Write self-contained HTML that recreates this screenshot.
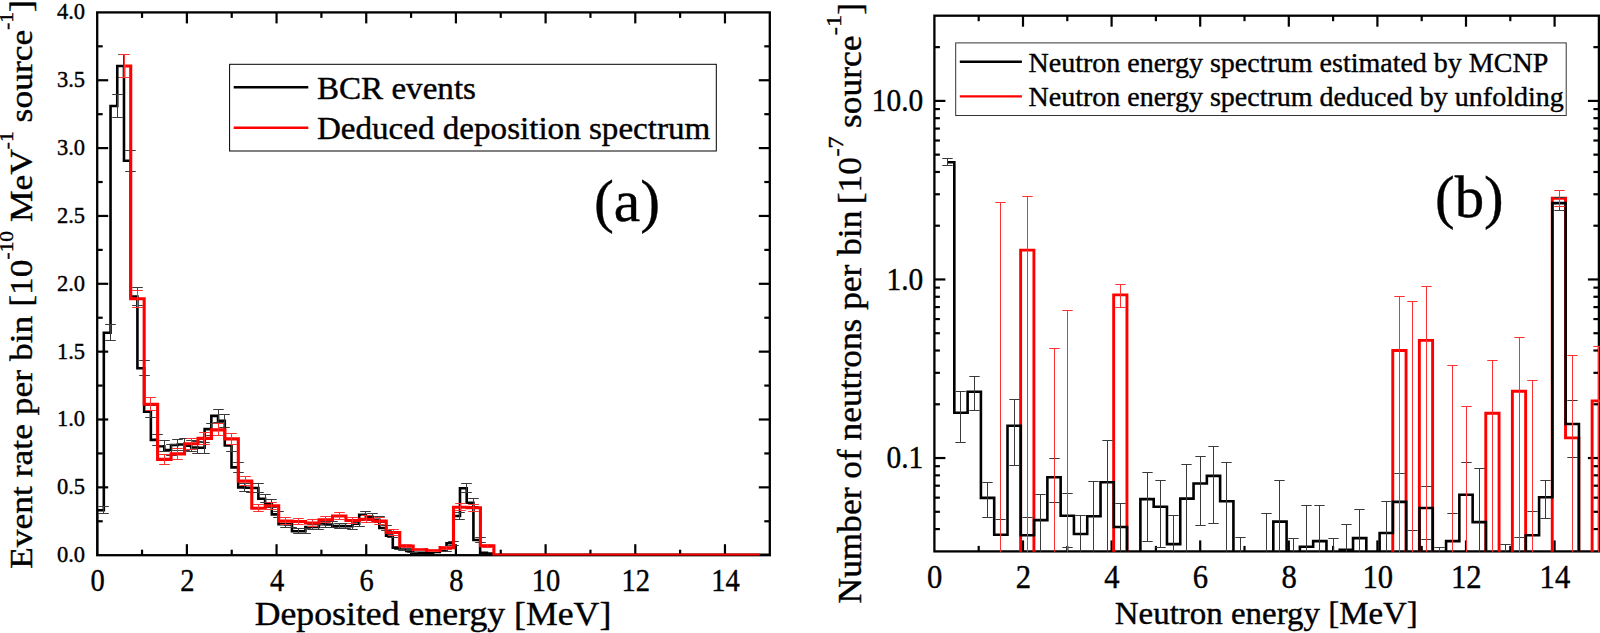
<!DOCTYPE html>
<html><head><meta charset="utf-8"><title>Spectra</title>
<style>html,body{margin:0;padding:0;background:#fff;overflow:hidden}svg{display:block}text{font-family:"Liberation Serif",serif;fill:#000;stroke:#000;stroke-width:0.4px;stroke-linejoin:round}</style>
</head><body>
<svg width="1600" height="633" viewBox="0 0 1600 633">
<rect width="1600" height="633" fill="#fff"/>
<rect x="97.20" y="12.40" width="672.60" height="542.80" fill="none" stroke="#000" stroke-width="2.3"/>
<text transform="translate(97.6,591.0) scale(0.88,1)" font-size="32.4" text-anchor="middle" >0</text>
<line x1="142.04" y1="555.20" x2="142.04" y2="549.70" stroke="#000" stroke-width="2.2"/>
<line x1="142.04" y1="12.40" x2="142.04" y2="17.90" stroke="#000" stroke-width="2.2"/>
<line x1="186.88" y1="555.20" x2="186.88" y2="544.20" stroke="#000" stroke-width="2.2"/>
<line x1="186.88" y1="12.40" x2="186.88" y2="23.40" stroke="#000" stroke-width="2.2"/>
<text transform="translate(187.3,591.0) scale(0.88,1)" font-size="32.4" text-anchor="middle" >2</text>
<line x1="231.72" y1="555.20" x2="231.72" y2="549.70" stroke="#000" stroke-width="2.2"/>
<line x1="231.72" y1="12.40" x2="231.72" y2="17.90" stroke="#000" stroke-width="2.2"/>
<line x1="276.56" y1="555.20" x2="276.56" y2="544.20" stroke="#000" stroke-width="2.2"/>
<line x1="276.56" y1="12.40" x2="276.56" y2="23.40" stroke="#000" stroke-width="2.2"/>
<text transform="translate(277.0,591.0) scale(0.88,1)" font-size="32.4" text-anchor="middle" >4</text>
<line x1="321.40" y1="555.20" x2="321.40" y2="549.70" stroke="#000" stroke-width="2.2"/>
<line x1="321.40" y1="12.40" x2="321.40" y2="17.90" stroke="#000" stroke-width="2.2"/>
<line x1="366.24" y1="555.20" x2="366.24" y2="544.20" stroke="#000" stroke-width="2.2"/>
<line x1="366.24" y1="12.40" x2="366.24" y2="23.40" stroke="#000" stroke-width="2.2"/>
<text transform="translate(366.6,591.0) scale(0.88,1)" font-size="32.4" text-anchor="middle" >6</text>
<line x1="411.08" y1="555.20" x2="411.08" y2="549.70" stroke="#000" stroke-width="2.2"/>
<line x1="411.08" y1="12.40" x2="411.08" y2="17.90" stroke="#000" stroke-width="2.2"/>
<line x1="455.92" y1="555.20" x2="455.92" y2="544.20" stroke="#000" stroke-width="2.2"/>
<line x1="455.92" y1="12.40" x2="455.92" y2="23.40" stroke="#000" stroke-width="2.2"/>
<text transform="translate(456.3,591.0) scale(0.88,1)" font-size="32.4" text-anchor="middle" >8</text>
<line x1="500.76" y1="555.20" x2="500.76" y2="549.70" stroke="#000" stroke-width="2.2"/>
<line x1="500.76" y1="12.40" x2="500.76" y2="17.90" stroke="#000" stroke-width="2.2"/>
<line x1="545.60" y1="555.20" x2="545.60" y2="544.20" stroke="#000" stroke-width="2.2"/>
<line x1="545.60" y1="12.40" x2="545.60" y2="23.40" stroke="#000" stroke-width="2.2"/>
<text transform="translate(546.0,591.0) scale(0.88,1)" font-size="32.4" text-anchor="middle" >10</text>
<line x1="590.44" y1="555.20" x2="590.44" y2="549.70" stroke="#000" stroke-width="2.2"/>
<line x1="590.44" y1="12.40" x2="590.44" y2="17.90" stroke="#000" stroke-width="2.2"/>
<line x1="635.28" y1="555.20" x2="635.28" y2="544.20" stroke="#000" stroke-width="2.2"/>
<line x1="635.28" y1="12.40" x2="635.28" y2="23.40" stroke="#000" stroke-width="2.2"/>
<text transform="translate(635.7,591.0) scale(0.88,1)" font-size="32.4" text-anchor="middle" >12</text>
<line x1="680.12" y1="555.20" x2="680.12" y2="549.70" stroke="#000" stroke-width="2.2"/>
<line x1="680.12" y1="12.40" x2="680.12" y2="17.90" stroke="#000" stroke-width="2.2"/>
<line x1="724.96" y1="555.20" x2="724.96" y2="544.20" stroke="#000" stroke-width="2.2"/>
<line x1="724.96" y1="12.40" x2="724.96" y2="23.40" stroke="#000" stroke-width="2.2"/>
<text transform="translate(725.4,591.0) scale(0.88,1)" font-size="32.4" text-anchor="middle" >14</text>
<text transform="translate(85.0,562.0) scale(1.0,1)" font-size="22.5" text-anchor="end" >0.0</text>
<line x1="97.20" y1="521.28" x2="102.70" y2="521.28" stroke="#000" stroke-width="2.2"/>
<line x1="769.80" y1="521.28" x2="764.30" y2="521.28" stroke="#000" stroke-width="2.2"/>
<line x1="97.20" y1="487.35" x2="108.20" y2="487.35" stroke="#000" stroke-width="2.2"/>
<line x1="769.80" y1="487.35" x2="758.80" y2="487.35" stroke="#000" stroke-width="2.2"/>
<text transform="translate(85.0,494.2) scale(1.0,1)" font-size="22.5" text-anchor="end" >0.5</text>
<line x1="97.20" y1="453.43" x2="102.70" y2="453.43" stroke="#000" stroke-width="2.2"/>
<line x1="769.80" y1="453.43" x2="764.30" y2="453.43" stroke="#000" stroke-width="2.2"/>
<line x1="97.20" y1="419.50" x2="108.20" y2="419.50" stroke="#000" stroke-width="2.2"/>
<line x1="769.80" y1="419.50" x2="758.80" y2="419.50" stroke="#000" stroke-width="2.2"/>
<text transform="translate(85.0,426.3) scale(1.0,1)" font-size="22.5" text-anchor="end" >1.0</text>
<line x1="97.20" y1="385.58" x2="102.70" y2="385.58" stroke="#000" stroke-width="2.2"/>
<line x1="769.80" y1="385.58" x2="764.30" y2="385.58" stroke="#000" stroke-width="2.2"/>
<line x1="97.20" y1="351.65" x2="108.20" y2="351.65" stroke="#000" stroke-width="2.2"/>
<line x1="769.80" y1="351.65" x2="758.80" y2="351.65" stroke="#000" stroke-width="2.2"/>
<text transform="translate(85.0,358.5) scale(1.0,1)" font-size="22.5" text-anchor="end" >1.5</text>
<line x1="97.20" y1="317.73" x2="102.70" y2="317.73" stroke="#000" stroke-width="2.2"/>
<line x1="769.80" y1="317.73" x2="764.30" y2="317.73" stroke="#000" stroke-width="2.2"/>
<line x1="97.20" y1="283.80" x2="108.20" y2="283.80" stroke="#000" stroke-width="2.2"/>
<line x1="769.80" y1="283.80" x2="758.80" y2="283.80" stroke="#000" stroke-width="2.2"/>
<text transform="translate(85.0,290.6) scale(1.0,1)" font-size="22.5" text-anchor="end" >2.0</text>
<line x1="97.20" y1="249.88" x2="102.70" y2="249.88" stroke="#000" stroke-width="2.2"/>
<line x1="769.80" y1="249.88" x2="764.30" y2="249.88" stroke="#000" stroke-width="2.2"/>
<line x1="97.20" y1="215.95" x2="108.20" y2="215.95" stroke="#000" stroke-width="2.2"/>
<line x1="769.80" y1="215.95" x2="758.80" y2="215.95" stroke="#000" stroke-width="2.2"/>
<text transform="translate(85.0,222.8) scale(1.0,1)" font-size="22.5" text-anchor="end" >2.5</text>
<line x1="97.20" y1="182.02" x2="102.70" y2="182.02" stroke="#000" stroke-width="2.2"/>
<line x1="769.80" y1="182.02" x2="764.30" y2="182.02" stroke="#000" stroke-width="2.2"/>
<line x1="97.20" y1="148.10" x2="108.20" y2="148.10" stroke="#000" stroke-width="2.2"/>
<line x1="769.80" y1="148.10" x2="758.80" y2="148.10" stroke="#000" stroke-width="2.2"/>
<text transform="translate(85.0,154.9) scale(1.0,1)" font-size="22.5" text-anchor="end" >3.0</text>
<line x1="97.20" y1="114.18" x2="102.70" y2="114.18" stroke="#000" stroke-width="2.2"/>
<line x1="769.80" y1="114.18" x2="764.30" y2="114.18" stroke="#000" stroke-width="2.2"/>
<line x1="97.20" y1="80.25" x2="108.20" y2="80.25" stroke="#000" stroke-width="2.2"/>
<line x1="769.80" y1="80.25" x2="758.80" y2="80.25" stroke="#000" stroke-width="2.2"/>
<text transform="translate(85.0,87.0) scale(1.0,1)" font-size="22.5" text-anchor="end" >3.5</text>
<line x1="97.20" y1="46.32" x2="102.70" y2="46.32" stroke="#000" stroke-width="2.2"/>
<line x1="769.80" y1="46.32" x2="764.30" y2="46.32" stroke="#000" stroke-width="2.2"/>
<text transform="translate(85.0,19.2) scale(1.0,1)" font-size="22.5" text-anchor="end" >4.0</text>
<clipPath id="cl"><rect x="97.2" y="12.4" width="672.5999999999999" height="543.1500000000001"/></clipPath>
<g clip-path="url(#cl)">
<path d="M97.10 555.20V510.30H103.82V332.80H110.54V106.00H117.26V66.00H123.98V160.80H130.70V296.50H137.42V368.20H144.14V411.60H150.86V439.90H157.58V446.20H164.30V450.00H171.02V445.00H177.74V444.50H184.46V445.60H191.18V447.50H197.90V447.80H204.62V429.10H211.34V415.90H218.06V420.90H224.78V445.50H231.50V467.40H238.22V487.40H244.94V487.80H251.66V488.00H258.38V498.80H265.10V503.80H271.82V514.40H278.54V524.20H285.26V524.40H291.98V531.20H298.70V531.20H305.42V527.00H312.14V527.00H318.86V524.20H325.58V524.50H332.30V526.00H339.02V526.10H345.74V526.30H352.46V523.60H359.18V514.80H365.90V516.70H372.62V519.80H379.34V528.00H386.06V535.60H392.78V547.60H399.50V549.50H406.22V551.00H412.94V552.70H419.66V552.70H426.38V552.70H433.10V552.00H439.82V550.50H446.54V543.20H453.26V516.00H459.98V488.20H466.70V502.80H473.42V540.00H480.14V552.70H486.86V553.50H493.58V554.90H769.80" fill="none" stroke="#000" stroke-width="2.6" stroke-linejoin="miter"/>
<path d="M103.50 506.50V513.50M98.20 506.50H108.80M98.20 513.50H108.80" stroke="#3a3a3a" stroke-width="1.0" fill="none" opacity="1.0"/>
<path d="M110.50 324.50V340.50M105.20 324.50H115.80M105.20 340.50H115.80" stroke="#3a3a3a" stroke-width="1.0" fill="none" opacity="1.0"/>
<path d="M117.50 94.50V117.50M112.20 94.50H122.80M112.20 117.50H122.80" stroke="#3a3a3a" stroke-width="1.0" fill="none" opacity="1.0"/>
<path d="M123.50 54.50V77.50M118.20 54.50H128.80M118.20 77.50H128.80" stroke="#3a3a3a" stroke-width="1.0" fill="none" opacity="1.0"/>
<path d="M130.50 150.50V171.50M125.20 150.50H135.80M125.20 171.50H135.80" stroke="#3a3a3a" stroke-width="1.0" fill="none" opacity="1.0"/>
<path d="M137.50 287.50V305.50M132.20 287.50H142.80M132.20 305.50H142.80" stroke="#3a3a3a" stroke-width="1.0" fill="none" opacity="1.0"/>
<path d="M144.50 360.50V375.50M139.20 360.50H149.80M139.20 375.50H149.80" stroke="#3a3a3a" stroke-width="1.0" fill="none" opacity="1.0"/>
<path d="M150.50 405.50V417.50M145.20 405.50H155.80M145.20 417.50H155.80" stroke="#3a3a3a" stroke-width="1.0" fill="none" opacity="1.0"/>
<path d="M157.50 434.50V445.50M152.20 434.50H162.80M152.20 445.50H162.80" stroke="#3a3a3a" stroke-width="1.0" fill="none" opacity="1.0"/>
<path d="M164.50 440.50V451.50M159.20 440.50H169.80M159.20 451.50H169.80" stroke="#3a3a3a" stroke-width="1.0" fill="none" opacity="1.0"/>
<path d="M171.50 444.50V455.50M166.20 444.50H176.80M166.20 455.50H176.80" stroke="#3a3a3a" stroke-width="1.0" fill="none" opacity="1.0"/>
<path d="M177.50 439.50V450.50M172.20 439.50H182.80M172.20 450.50H182.80" stroke="#3a3a3a" stroke-width="1.0" fill="none" opacity="1.0"/>
<path d="M184.50 438.50V450.50M179.20 438.50H189.80M179.20 450.50H189.80" stroke="#3a3a3a" stroke-width="1.0" fill="none" opacity="1.0"/>
<path d="M191.50 440.50V451.50M186.20 440.50H196.80M186.20 451.50H196.80" stroke="#3a3a3a" stroke-width="1.0" fill="none" opacity="1.0"/>
<path d="M197.50 441.50V453.50M192.20 441.50H202.80M192.20 453.50H202.80" stroke="#3a3a3a" stroke-width="1.0" fill="none" opacity="1.0"/>
<path d="M204.50 442.50V453.50M199.20 442.50H209.80M199.20 453.50H209.80" stroke="#3a3a3a" stroke-width="1.0" fill="none" opacity="1.0"/>
<path d="M211.50 423.50V435.50M206.20 423.50H216.80M206.20 435.50H216.80" stroke="#3a3a3a" stroke-width="1.0" fill="none" opacity="1.0"/>
<path d="M218.50 409.50V422.50M213.20 409.50H223.80M213.20 422.50H223.80" stroke="#3a3a3a" stroke-width="1.0" fill="none" opacity="1.0"/>
<path d="M224.50 414.50V427.50M219.20 414.50H229.80M219.20 427.50H229.80" stroke="#3a3a3a" stroke-width="1.0" fill="none" opacity="1.0"/>
<path d="M231.50 439.50V451.50M226.20 439.50H236.80M226.20 451.50H236.80" stroke="#3a3a3a" stroke-width="1.0" fill="none" opacity="1.0"/>
<path d="M238.50 462.50V472.50M233.20 462.50H243.80M233.20 472.50H243.80" stroke="#3a3a3a" stroke-width="1.0" fill="none" opacity="1.0"/>
<path d="M244.50 483.50V491.50M239.20 483.50H249.80M239.20 491.50H249.80" stroke="#3a3a3a" stroke-width="1.0" fill="none" opacity="1.0"/>
<path d="M251.50 483.50V492.50M246.20 483.50H256.80M246.20 492.50H256.80" stroke="#3a3a3a" stroke-width="1.0" fill="none" opacity="1.0"/>
<path d="M258.50 483.50V492.50M253.20 483.50H263.80M253.20 492.50H263.80" stroke="#3a3a3a" stroke-width="1.0" fill="none" opacity="1.0"/>
<path d="M265.50 494.50V502.50M260.20 494.50H270.80M260.20 502.50H270.80" stroke="#3a3a3a" stroke-width="1.0" fill="none" opacity="1.0"/>
<path d="M271.50 499.50V507.50M266.20 499.50H276.80M266.20 507.50H276.80" stroke="#3a3a3a" stroke-width="1.0" fill="none" opacity="1.0"/>
<path d="M278.50 511.50V517.50M273.20 511.50H283.80M273.20 517.50H283.80" stroke="#3a3a3a" stroke-width="1.0" fill="none" opacity="1.0"/>
<path d="M285.50 521.50V527.50M280.20 521.50H290.80M280.20 527.50H290.80" stroke="#3a3a3a" stroke-width="1.0" fill="none" opacity="1.0"/>
<path d="M291.50 521.50V527.50M286.20 521.50H296.80M286.20 527.50H296.80" stroke="#3a3a3a" stroke-width="1.0" fill="none" opacity="1.0"/>
<path d="M298.50 528.50V533.50M293.20 528.50H303.80M293.20 533.50H303.80" stroke="#3a3a3a" stroke-width="1.0" fill="none" opacity="1.0"/>
<path d="M305.50 528.50V533.50M300.20 528.50H310.80M300.20 533.50H310.80" stroke="#3a3a3a" stroke-width="1.0" fill="none" opacity="1.0"/>
<path d="M312.50 524.50V529.50M307.20 524.50H317.80M307.20 529.50H317.80" stroke="#3a3a3a" stroke-width="1.0" fill="none" opacity="1.0"/>
<path d="M318.50 524.50V529.50M313.20 524.50H323.80M313.20 529.50H323.80" stroke="#3a3a3a" stroke-width="1.0" fill="none" opacity="1.0"/>
<path d="M325.50 521.50V527.50M320.20 521.50H330.80M320.20 527.50H330.80" stroke="#3a3a3a" stroke-width="1.0" fill="none" opacity="1.0"/>
<path d="M332.50 521.50V527.50M327.20 521.50H337.80M327.20 527.50H337.80" stroke="#3a3a3a" stroke-width="1.0" fill="none" opacity="1.0"/>
<path d="M339.50 523.50V528.50M334.20 523.50H344.80M334.20 528.50H344.80" stroke="#3a3a3a" stroke-width="1.0" fill="none" opacity="1.0"/>
<path d="M345.50 523.50V528.50M340.20 523.50H350.80M340.20 528.50H350.80" stroke="#3a3a3a" stroke-width="1.0" fill="none" opacity="1.0"/>
<path d="M352.50 523.50V529.50M347.20 523.50H357.80M347.20 529.50H357.80" stroke="#3a3a3a" stroke-width="1.0" fill="none" opacity="1.0"/>
<path d="M359.50 520.50V526.50M354.20 520.50H364.80M354.20 526.50H364.80" stroke="#3a3a3a" stroke-width="1.0" fill="none" opacity="1.0"/>
<path d="M365.50 511.50V518.50M360.20 511.50H370.80M360.20 518.50H370.80" stroke="#3a3a3a" stroke-width="1.0" fill="none" opacity="1.0"/>
<path d="M372.50 513.50V520.50M367.20 513.50H377.80M367.20 520.50H377.80" stroke="#3a3a3a" stroke-width="1.0" fill="none" opacity="1.0"/>
<path d="M379.50 516.50V522.50M374.20 516.50H384.80M374.20 522.50H384.80" stroke="#3a3a3a" stroke-width="1.0" fill="none" opacity="1.0"/>
<path d="M386.50 525.50V530.50M381.20 525.50H391.80M381.20 530.50H391.80" stroke="#3a3a3a" stroke-width="1.0" fill="none" opacity="1.0"/>
<path d="M392.50 533.50V537.50M387.20 533.50H397.80M387.20 537.50H397.80" stroke="#3a3a3a" stroke-width="1.0" fill="none" opacity="1.0"/>
<path d="M399.50 546.50V549.50M394.20 546.50H404.80M394.20 549.50H404.80" stroke="#3a3a3a" stroke-width="1.0" fill="none" opacity="1.0"/>
<path d="M406.50 548.50V550.50M401.20 548.50H411.80M401.20 550.50H411.80" stroke="#3a3a3a" stroke-width="1.0" fill="none" opacity="1.0"/>
<path d="M412.50 549.50V552.50M407.20 549.50H417.80M407.20 552.50H417.80" stroke="#3a3a3a" stroke-width="1.0" fill="none" opacity="1.0"/>
<path d="M446.50 549.50V551.50M441.20 549.50H451.80M441.20 551.50H451.80" stroke="#3a3a3a" stroke-width="1.0" fill="none" opacity="1.0"/>
<path d="M453.50 541.50V545.50M448.20 541.50H458.80M448.20 545.50H458.80" stroke="#3a3a3a" stroke-width="1.0" fill="none" opacity="1.0"/>
<path d="M459.50 512.50V519.50M454.20 512.50H464.80M454.20 519.50H464.80" stroke="#3a3a3a" stroke-width="1.0" fill="none" opacity="1.0"/>
<path d="M466.50 483.50V492.50M461.20 483.50H471.80M461.20 492.50H471.80" stroke="#3a3a3a" stroke-width="1.0" fill="none" opacity="1.0"/>
<path d="M473.50 498.50V506.50M468.20 498.50H478.80M468.20 506.50H478.80" stroke="#3a3a3a" stroke-width="1.0" fill="none" opacity="1.0"/>
<path d="M480.50 537.50V542.50M475.20 537.50H485.80M475.20 542.50H485.80" stroke="#3a3a3a" stroke-width="1.0" fill="none" opacity="1.0"/>
<path d="M125.30 66.00H130.72V298.80H144.17V404.30H157.62V459.40H171.07V453.90H184.52V443.70H197.97V438.40H211.42V429.90H224.88V438.90H238.32V481.10H251.77V508.30H265.23V505.80H278.67V521.10H292.12V521.50H305.57V523.00H319.02V519.80H332.48V516.00H345.92V520.50H359.38V519.20H372.82V521.10H386.27V532.50H399.73V546.00H413.17V549.50H426.62V550.50H440.07V547.60H453.52V507.20H466.98V507.80H480.42V545.70H493.88V555.10H507.32V555.10H520.77V555.10H534.23V555.10H547.67V555.10H561.12V555.10H574.57V555.10H588.02V555.10H601.48V555.10H614.92V555.10H628.38V555.10H641.83V555.10H655.27V555.10H668.73V555.10H682.17V555.10H695.62V555.10H709.08V555.10H722.52V555.10H735.98V555.10H749.42V555.10H759.80" fill="none" stroke="#f00" stroke-width="3.1" stroke-linejoin="miter"/>
<path d="M124.50 54.50V77.50M119.20 54.50H129.80M119.20 77.50H129.80" stroke="#ff3030" stroke-width="1.0" fill="none" opacity="1.0"/>
<path d="M137.50 290.50V307.50M132.20 290.50H142.80M132.20 307.50H142.80" stroke="#ff3030" stroke-width="1.0" fill="none" opacity="1.0"/>
<path d="M150.50 397.50V410.50M145.20 397.50H155.80M145.20 410.50H155.80" stroke="#ff3030" stroke-width="1.0" fill="none" opacity="1.0"/>
<path d="M164.50 454.50V464.50M159.20 454.50H169.80M159.20 464.50H169.80" stroke="#ff3030" stroke-width="1.0" fill="none" opacity="1.0"/>
<path d="M177.50 448.50V459.50M172.20 448.50H182.80M172.20 459.50H182.80" stroke="#ff3030" stroke-width="1.0" fill="none" opacity="1.0"/>
<path d="M191.50 438.50V449.50M186.20 438.50H196.80M186.20 449.50H196.80" stroke="#ff3030" stroke-width="1.0" fill="none" opacity="1.0"/>
<path d="M204.50 432.50V444.50M199.20 432.50H209.80M199.20 444.50H209.80" stroke="#ff3030" stroke-width="1.0" fill="none" opacity="1.0"/>
<path d="M218.50 423.50V435.50M213.20 423.50H223.80M213.20 435.50H223.80" stroke="#ff3030" stroke-width="1.0" fill="none" opacity="1.0"/>
<path d="M231.50 433.50V444.50M226.20 433.50H236.80M226.20 444.50H236.80" stroke="#ff3030" stroke-width="1.0" fill="none" opacity="1.0"/>
<path d="M245.50 476.50V485.50M240.20 476.50H250.80M240.20 485.50H250.80" stroke="#ff3030" stroke-width="1.0" fill="none" opacity="1.0"/>
<path d="M258.50 504.50V511.50M253.20 504.50H263.80M253.20 511.50H263.80" stroke="#ff3030" stroke-width="1.0" fill="none" opacity="1.0"/>
<path d="M271.50 502.50V509.50M266.20 502.50H276.80M266.20 509.50H276.80" stroke="#ff3030" stroke-width="1.0" fill="none" opacity="1.0"/>
<path d="M285.50 517.50V524.50M280.20 517.50H290.80M280.20 524.50H290.80" stroke="#ff3030" stroke-width="1.0" fill="none" opacity="1.0"/>
<path d="M298.50 518.50V524.50M293.20 518.50H303.80M293.20 524.50H303.80" stroke="#ff3030" stroke-width="1.0" fill="none" opacity="1.0"/>
<path d="M312.50 519.50V526.50M307.20 519.50H317.80M307.20 526.50H317.80" stroke="#ff3030" stroke-width="1.0" fill="none" opacity="1.0"/>
<path d="M325.50 516.50V522.50M320.20 516.50H330.80M320.20 522.50H330.80" stroke="#ff3030" stroke-width="1.0" fill="none" opacity="1.0"/>
<path d="M339.50 512.50V519.50M334.20 512.50H344.80M334.20 519.50H344.80" stroke="#ff3030" stroke-width="1.0" fill="none" opacity="1.0"/>
<path d="M352.50 517.50V523.50M347.20 517.50H357.80M347.20 523.50H357.80" stroke="#ff3030" stroke-width="1.0" fill="none" opacity="1.0"/>
<path d="M366.50 515.50V522.50M361.20 515.50H371.80M361.20 522.50H371.80" stroke="#ff3030" stroke-width="1.0" fill="none" opacity="1.0"/>
<path d="M379.50 517.50V524.50M374.20 517.50H384.80M374.20 524.50H384.80" stroke="#ff3030" stroke-width="1.0" fill="none" opacity="1.0"/>
<path d="M393.50 529.50V535.50M388.20 529.50H398.80M388.20 535.50H398.80" stroke="#ff3030" stroke-width="1.0" fill="none" opacity="1.0"/>
<path d="M406.50 544.50V547.50M401.20 544.50H411.80M401.20 547.50H411.80" stroke="#ff3030" stroke-width="1.0" fill="none" opacity="1.0"/>
<path d="M419.50 548.50V550.50M414.20 548.50H424.80M414.20 550.50H424.80" stroke="#ff3030" stroke-width="1.0" fill="none" opacity="1.0"/>
<path d="M433.50 549.50V551.50M428.20 549.50H438.80M428.20 551.50H438.80" stroke="#ff3030" stroke-width="1.0" fill="none" opacity="1.0"/>
<path d="M446.50 546.50V549.50M441.20 546.50H451.80M441.20 549.50H451.80" stroke="#ff3030" stroke-width="1.0" fill="none" opacity="1.0"/>
<path d="M460.50 503.50V510.50M455.20 503.50H465.80M455.20 510.50H465.80" stroke="#ff3030" stroke-width="1.0" fill="none" opacity="1.0"/>
<path d="M473.50 504.50V511.50M468.20 504.50H478.80M468.20 511.50H478.80" stroke="#ff3030" stroke-width="1.0" fill="none" opacity="1.0"/>
<path d="M487.50 544.50V547.50M482.20 544.50H492.80M482.20 547.50H492.80" stroke="#ff3030" stroke-width="1.0" fill="none" opacity="1.0"/>
</g>
<text transform="translate(433.0,624.5) scale(1.09,1)" font-size="32.8" text-anchor="middle" >Deposited energy [MeV]</text>
<text font-size="32.4" transform="translate(31.6,568.8) rotate(-90) scale(1.095,1)">Event rate per bin [10<tspan font-size="19.6" dy="-18.3">-10</tspan><tspan dy="18.3"> MeV</tspan><tspan font-size="19.6" dy="-18.3">-1</tspan><tspan dy="18.3"> source</tspan><tspan font-size="19.6" dy="-18.3">-1</tspan><tspan dy="18.3">]</tspan></text>
<rect x="229.6" y="64.3" width="486.7" height="86.7" fill="#fff" stroke="#000" stroke-width="1"/>
<line x1="233.70" y1="87.30" x2="308.30" y2="87.30" stroke="#000" stroke-width="2.5"/>
<line x1="233.70" y1="127.80" x2="308.30" y2="127.80" stroke="#f00" stroke-width="2.5"/>
<text transform="translate(316.9,98.5) scale(1.068,1)" font-size="31" text-anchor="start" >BCR events</text>
<text transform="translate(316.9,138.6) scale(1.068,1)" font-size="31" text-anchor="start" >Deduced deposition spectrum</text>
<text transform="translate(594.0,220.8) scale(1.0,1)" font-size="59.6" text-anchor="start" >(a)</text>
<rect x="934.40" y="15.70" width="664.50" height="535.70" fill="none" stroke="#000" stroke-width="2.3"/>
<text transform="translate(934.7,587.9) scale(0.923,1)" font-size="33.2" text-anchor="middle" >0</text>
<line x1="978.70" y1="551.40" x2="978.70" y2="545.90" stroke="#000" stroke-width="2.2"/>
<line x1="978.70" y1="15.70" x2="978.70" y2="21.20" stroke="#000" stroke-width="2.2"/>
<line x1="1023.00" y1="551.40" x2="1023.00" y2="540.40" stroke="#000" stroke-width="2.2"/>
<line x1="1023.00" y1="15.70" x2="1023.00" y2="26.70" stroke="#000" stroke-width="2.2"/>
<text transform="translate(1023.3,587.9) scale(0.923,1)" font-size="33.2" text-anchor="middle" >2</text>
<line x1="1067.30" y1="551.40" x2="1067.30" y2="545.90" stroke="#000" stroke-width="2.2"/>
<line x1="1067.30" y1="15.70" x2="1067.30" y2="21.20" stroke="#000" stroke-width="2.2"/>
<line x1="1111.60" y1="551.40" x2="1111.60" y2="540.40" stroke="#000" stroke-width="2.2"/>
<line x1="1111.60" y1="15.70" x2="1111.60" y2="26.70" stroke="#000" stroke-width="2.2"/>
<text transform="translate(1111.9,587.9) scale(0.923,1)" font-size="33.2" text-anchor="middle" >4</text>
<line x1="1155.90" y1="551.40" x2="1155.90" y2="545.90" stroke="#000" stroke-width="2.2"/>
<line x1="1155.90" y1="15.70" x2="1155.90" y2="21.20" stroke="#000" stroke-width="2.2"/>
<line x1="1200.20" y1="551.40" x2="1200.20" y2="540.40" stroke="#000" stroke-width="2.2"/>
<line x1="1200.20" y1="15.70" x2="1200.20" y2="26.70" stroke="#000" stroke-width="2.2"/>
<text transform="translate(1200.5,587.9) scale(0.923,1)" font-size="33.2" text-anchor="middle" >6</text>
<line x1="1244.50" y1="551.40" x2="1244.50" y2="545.90" stroke="#000" stroke-width="2.2"/>
<line x1="1244.50" y1="15.70" x2="1244.50" y2="21.20" stroke="#000" stroke-width="2.2"/>
<line x1="1288.80" y1="551.40" x2="1288.80" y2="540.40" stroke="#000" stroke-width="2.2"/>
<line x1="1288.80" y1="15.70" x2="1288.80" y2="26.70" stroke="#000" stroke-width="2.2"/>
<text transform="translate(1289.1,587.9) scale(0.923,1)" font-size="33.2" text-anchor="middle" >8</text>
<line x1="1333.10" y1="551.40" x2="1333.10" y2="545.90" stroke="#000" stroke-width="2.2"/>
<line x1="1333.10" y1="15.70" x2="1333.10" y2="21.20" stroke="#000" stroke-width="2.2"/>
<line x1="1377.40" y1="551.40" x2="1377.40" y2="540.40" stroke="#000" stroke-width="2.2"/>
<line x1="1377.40" y1="15.70" x2="1377.40" y2="26.70" stroke="#000" stroke-width="2.2"/>
<text transform="translate(1377.7,587.9) scale(0.923,1)" font-size="33.2" text-anchor="middle" >10</text>
<line x1="1421.70" y1="551.40" x2="1421.70" y2="545.90" stroke="#000" stroke-width="2.2"/>
<line x1="1421.70" y1="15.70" x2="1421.70" y2="21.20" stroke="#000" stroke-width="2.2"/>
<line x1="1466.00" y1="551.40" x2="1466.00" y2="540.40" stroke="#000" stroke-width="2.2"/>
<line x1="1466.00" y1="15.70" x2="1466.00" y2="26.70" stroke="#000" stroke-width="2.2"/>
<text transform="translate(1466.3,587.9) scale(0.923,1)" font-size="33.2" text-anchor="middle" >12</text>
<line x1="1510.30" y1="551.40" x2="1510.30" y2="545.90" stroke="#000" stroke-width="2.2"/>
<line x1="1510.30" y1="15.70" x2="1510.30" y2="21.20" stroke="#000" stroke-width="2.2"/>
<line x1="1554.60" y1="551.40" x2="1554.60" y2="540.40" stroke="#000" stroke-width="2.2"/>
<line x1="1554.60" y1="15.70" x2="1554.60" y2="26.70" stroke="#000" stroke-width="2.2"/>
<text transform="translate(1554.9,587.9) scale(0.923,1)" font-size="33.2" text-anchor="middle" >14</text>
<line x1="934.40" y1="529.09" x2="939.90" y2="529.09" stroke="#000" stroke-width="2.2"/>
<line x1="1598.90" y1="529.09" x2="1593.40" y2="529.09" stroke="#000" stroke-width="2.2"/>
<line x1="934.40" y1="511.79" x2="939.90" y2="511.79" stroke="#000" stroke-width="2.2"/>
<line x1="1598.90" y1="511.79" x2="1593.40" y2="511.79" stroke="#000" stroke-width="2.2"/>
<line x1="934.40" y1="497.65" x2="939.90" y2="497.65" stroke="#000" stroke-width="2.2"/>
<line x1="1598.90" y1="497.65" x2="1593.40" y2="497.65" stroke="#000" stroke-width="2.2"/>
<line x1="934.40" y1="485.69" x2="939.90" y2="485.69" stroke="#000" stroke-width="2.2"/>
<line x1="1598.90" y1="485.69" x2="1593.40" y2="485.69" stroke="#000" stroke-width="2.2"/>
<line x1="934.40" y1="475.34" x2="939.90" y2="475.34" stroke="#000" stroke-width="2.2"/>
<line x1="1598.90" y1="475.34" x2="1593.40" y2="475.34" stroke="#000" stroke-width="2.2"/>
<line x1="934.40" y1="466.20" x2="939.90" y2="466.20" stroke="#000" stroke-width="2.2"/>
<line x1="1598.90" y1="466.20" x2="1593.40" y2="466.20" stroke="#000" stroke-width="2.2"/>
<line x1="934.40" y1="458.03" x2="945.40" y2="458.03" stroke="#000" stroke-width="2.2"/>
<line x1="1598.90" y1="458.03" x2="1587.90" y2="458.03" stroke="#000" stroke-width="2.2"/>
<text transform="translate(923.3,468.0) scale(0.917,1)" font-size="32.1" text-anchor="end" >0.1</text>
<line x1="934.40" y1="404.28" x2="939.90" y2="404.28" stroke="#000" stroke-width="2.2"/>
<line x1="1598.90" y1="404.28" x2="1593.40" y2="404.28" stroke="#000" stroke-width="2.2"/>
<line x1="934.40" y1="372.83" x2="939.90" y2="372.83" stroke="#000" stroke-width="2.2"/>
<line x1="1598.90" y1="372.83" x2="1593.40" y2="372.83" stroke="#000" stroke-width="2.2"/>
<line x1="934.40" y1="350.52" x2="939.90" y2="350.52" stroke="#000" stroke-width="2.2"/>
<line x1="1598.90" y1="350.52" x2="1593.40" y2="350.52" stroke="#000" stroke-width="2.2"/>
<line x1="934.40" y1="333.22" x2="939.90" y2="333.22" stroke="#000" stroke-width="2.2"/>
<line x1="1598.90" y1="333.22" x2="1593.40" y2="333.22" stroke="#000" stroke-width="2.2"/>
<line x1="934.40" y1="319.08" x2="939.90" y2="319.08" stroke="#000" stroke-width="2.2"/>
<line x1="1598.90" y1="319.08" x2="1593.40" y2="319.08" stroke="#000" stroke-width="2.2"/>
<line x1="934.40" y1="307.12" x2="939.90" y2="307.12" stroke="#000" stroke-width="2.2"/>
<line x1="1598.90" y1="307.12" x2="1593.40" y2="307.12" stroke="#000" stroke-width="2.2"/>
<line x1="934.40" y1="296.77" x2="939.90" y2="296.77" stroke="#000" stroke-width="2.2"/>
<line x1="1598.90" y1="296.77" x2="1593.40" y2="296.77" stroke="#000" stroke-width="2.2"/>
<line x1="934.40" y1="287.64" x2="939.90" y2="287.64" stroke="#000" stroke-width="2.2"/>
<line x1="1598.90" y1="287.64" x2="1593.40" y2="287.64" stroke="#000" stroke-width="2.2"/>
<line x1="934.40" y1="279.46" x2="945.40" y2="279.46" stroke="#000" stroke-width="2.2"/>
<line x1="1598.90" y1="279.46" x2="1587.90" y2="279.46" stroke="#000" stroke-width="2.2"/>
<text transform="translate(923.3,289.5) scale(0.917,1)" font-size="32.1" text-anchor="end" >1.0</text>
<line x1="934.40" y1="225.71" x2="939.90" y2="225.71" stroke="#000" stroke-width="2.2"/>
<line x1="1598.90" y1="225.71" x2="1593.40" y2="225.71" stroke="#000" stroke-width="2.2"/>
<line x1="934.40" y1="194.27" x2="939.90" y2="194.27" stroke="#000" stroke-width="2.2"/>
<line x1="1598.90" y1="194.27" x2="1593.40" y2="194.27" stroke="#000" stroke-width="2.2"/>
<line x1="934.40" y1="171.96" x2="939.90" y2="171.96" stroke="#000" stroke-width="2.2"/>
<line x1="1598.90" y1="171.96" x2="1593.40" y2="171.96" stroke="#000" stroke-width="2.2"/>
<line x1="934.40" y1="154.65" x2="939.90" y2="154.65" stroke="#000" stroke-width="2.2"/>
<line x1="1598.90" y1="154.65" x2="1593.40" y2="154.65" stroke="#000" stroke-width="2.2"/>
<line x1="934.40" y1="140.51" x2="939.90" y2="140.51" stroke="#000" stroke-width="2.2"/>
<line x1="1598.90" y1="140.51" x2="1593.40" y2="140.51" stroke="#000" stroke-width="2.2"/>
<line x1="934.40" y1="128.56" x2="939.90" y2="128.56" stroke="#000" stroke-width="2.2"/>
<line x1="1598.90" y1="128.56" x2="1593.40" y2="128.56" stroke="#000" stroke-width="2.2"/>
<line x1="934.40" y1="118.20" x2="939.90" y2="118.20" stroke="#000" stroke-width="2.2"/>
<line x1="1598.90" y1="118.20" x2="1593.40" y2="118.20" stroke="#000" stroke-width="2.2"/>
<line x1="934.40" y1="109.07" x2="939.90" y2="109.07" stroke="#000" stroke-width="2.2"/>
<line x1="1598.90" y1="109.07" x2="1593.40" y2="109.07" stroke="#000" stroke-width="2.2"/>
<line x1="934.40" y1="100.90" x2="945.40" y2="100.90" stroke="#000" stroke-width="2.2"/>
<line x1="1598.90" y1="100.90" x2="1587.90" y2="100.90" stroke="#000" stroke-width="2.2"/>
<text transform="translate(923.3,110.9) scale(0.917,1)" font-size="32.1" text-anchor="end" >10.0</text>
<line x1="934.40" y1="47.14" x2="939.90" y2="47.14" stroke="#000" stroke-width="2.2"/>
<line x1="1598.90" y1="47.14" x2="1593.40" y2="47.14" stroke="#000" stroke-width="2.2"/>
<clipPath id="cr"><rect x="934.4" y="15.7" width="666.5000000000001" height="536.15"/></clipPath>
<g clip-path="url(#cr)">
<path d="M1000.70 557.40H1007.35V557.40H1020.63V250.10H1033.92V557.40H1047.21V557.40H1060.51V557.40H1073.80V557.40H1087.09V557.40H1100.38V557.40H1113.66V294.90H1126.95V557.40H1140.24V557.40H1153.54V557.40H1166.83V557.40H1180.12V557.40H1193.40V557.40H1206.69V557.40H1219.98V557.40H1233.28V557.40H1246.57V557.40H1259.86V557.40H1273.14V557.40H1286.43V557.40H1299.72V557.40H1313.01V557.40H1326.30V557.40H1339.60V557.40H1352.88V557.40H1366.17V557.40H1379.46V557.40H1392.76V350.50H1406.05V557.40H1419.34V340.40H1432.62V557.40H1445.91V557.40H1459.20V557.40H1472.49V557.40H1485.78V413.20H1499.07V557.40H1512.37V391.30H1525.65V557.40H1538.94V557.40H1552.24V198.30H1565.53V437.90H1578.82V557.40H1592.11V400.90H1605.39" fill="none" stroke="#f00" stroke-width="2.9" stroke-linejoin="miter"/>
<path d="M947.69 162.20H954.33V412.70H967.62V391.70H980.91V497.90H994.20V534.80H1007.50V425.80H1020.78V535.30H1034.08V520.10H1047.37V477.20H1060.65V515.80H1073.94V534.00H1087.23V516.30H1100.53V482.20H1113.82V527.00H1127.11V557.40H1140.39V499.10H1153.68V506.70H1166.97V544.10H1180.26V498.60H1193.55V483.50H1206.85V475.90H1220.13V501.20H1233.42V557.40H1246.71V557.40H1260.00V557.40H1273.30V521.60H1286.59V557.40H1299.88V546.70H1313.16V541.10H1326.45V557.40H1339.74V549.70H1353.03V538.10H1366.32V557.40H1379.62V533.00H1392.90V501.90H1406.19V557.40H1419.48V508.00H1432.77V557.40H1446.07V541.10H1459.36V494.80H1472.64V522.10H1485.93V557.40H1499.22V557.40H1512.51V557.40H1525.80V535.20H1539.09V497.30H1552.38V203.10H1565.67V424.00H1578.96V557.40H1592.25" fill="none" stroke="#000" stroke-width="2.6" stroke-linejoin="miter"/>
<path d="M947.50 158.50V165.50M942.30 158.50H952.70M942.30 165.50H952.70" stroke="#3a3a3a" stroke-width="1.0" fill="none" opacity="1.0"/>
<path d="M960.50 391.50V442.50M955.30 391.50H965.70M955.30 442.50H965.70" stroke="#3a3a3a" stroke-width="1.0" fill="none" opacity="1.0"/>
<path d="M974.50 376.50V410.50M969.30 376.50H979.70M969.30 410.50H979.70" stroke="#3a3a3a" stroke-width="1.0" fill="none" opacity="1.0"/>
<path d="M987.50 482.50V517.50M982.30 482.50H992.70M982.30 517.50H992.70" stroke="#3a3a3a" stroke-width="1.0" fill="none" opacity="1.0"/>
<path d="M1000.50 519.50V557.40M995.30 519.50H1005.70" stroke="#3a3a3a" stroke-width="1" fill="none"/>
<path d="M1014.50 399.50V465.50M1009.30 399.50H1019.70M1009.30 465.50H1019.70" stroke="#3a3a3a" stroke-width="1.0" fill="none" opacity="1.0"/>
<path d="M1027.50 517.50V557.40M1022.30 517.50H1032.70" stroke="#3a3a3a" stroke-width="1" fill="none"/>
<path d="M1040.50 494.50V557.40M1035.30 494.50H1045.70" stroke="#3a3a3a" stroke-width="1" fill="none"/>
<path d="M1054.50 458.50V502.50M1049.30 458.50H1059.70M1049.30 502.50H1059.70" stroke="#3a3a3a" stroke-width="1.0" fill="none" opacity="1.0"/>
<path d="M1067.50 493.50V547.50M1062.30 493.50H1072.70M1062.30 547.50H1072.70" stroke="#3a3a3a" stroke-width="1.0" fill="none" opacity="1.0"/>
<path d="M1080.50 515.50V557.40M1075.30 515.50H1085.70" stroke="#3a3a3a" stroke-width="1" fill="none"/>
<path d="M1093.50 481.50V557.40M1088.30 481.50H1098.70" stroke="#3a3a3a" stroke-width="1" fill="none"/>
<path d="M1107.50 440.50V557.40M1102.30 440.50H1112.70" stroke="#3a3a3a" stroke-width="1" fill="none"/>
<path d="M1120.50 503.50V557.40M1115.30 503.50H1125.70" stroke="#3a3a3a" stroke-width="1" fill="none"/>
<path d="M1147.50 472.50V541.50M1142.30 472.50H1152.70M1142.30 541.50H1152.70" stroke="#3a3a3a" stroke-width="1.0" fill="none" opacity="1.0"/>
<path d="M1160.50 480.50V547.50M1155.30 480.50H1165.70M1155.30 547.50H1165.70" stroke="#3a3a3a" stroke-width="1.0" fill="none" opacity="1.0"/>
<path d="M1173.50 515.50V557.40M1168.30 515.50H1178.70" stroke="#3a3a3a" stroke-width="1" fill="none"/>
<path d="M1186.50 464.50V557.40M1181.30 464.50H1191.70" stroke="#3a3a3a" stroke-width="1" fill="none"/>
<path d="M1200.50 456.50V525.50M1195.30 456.50H1205.70M1195.30 525.50H1205.70" stroke="#3a3a3a" stroke-width="1.0" fill="none" opacity="1.0"/>
<path d="M1213.50 446.50V523.50M1208.30 446.50H1218.70M1208.30 523.50H1218.70" stroke="#3a3a3a" stroke-width="1.0" fill="none" opacity="1.0"/>
<path d="M1226.50 462.50V557.40M1221.30 462.50H1231.70" stroke="#3a3a3a" stroke-width="1" fill="none"/>
<path d="M1240.50 537.50V557.40M1235.30 537.50H1245.70" stroke="#3a3a3a" stroke-width="1" fill="none"/>
<path d="M1266.50 513.50V557.40M1261.30 513.50H1271.70" stroke="#3a3a3a" stroke-width="1" fill="none"/>
<path d="M1279.50 480.50V557.40M1274.30 480.50H1284.70" stroke="#3a3a3a" stroke-width="1" fill="none"/>
<path d="M1293.50 538.50V557.40M1288.30 538.50H1298.70" stroke="#3a3a3a" stroke-width="1" fill="none"/>
<path d="M1306.50 505.50V557.40M1301.30 505.50H1311.70" stroke="#3a3a3a" stroke-width="1" fill="none"/>
<path d="M1319.50 505.50V557.40M1314.30 505.50H1324.70" stroke="#3a3a3a" stroke-width="1" fill="none"/>
<path d="M1333.50 538.50V557.40M1328.30 538.50H1338.70" stroke="#3a3a3a" stroke-width="1" fill="none"/>
<path d="M1346.50 524.50V557.40M1341.30 524.50H1351.70" stroke="#3a3a3a" stroke-width="1" fill="none"/>
<path d="M1359.50 509.50V557.40M1354.30 509.50H1364.70" stroke="#3a3a3a" stroke-width="1" fill="none"/>
<path d="M1386.50 501.50V557.40M1381.30 501.50H1391.70" stroke="#3a3a3a" stroke-width="1" fill="none"/>
<path d="M1399.50 473.50V557.40M1394.30 473.50H1404.70" stroke="#3a3a3a" stroke-width="1" fill="none"/>
<path d="M1412.50 530.50V557.40M1407.30 530.50H1417.70" stroke="#3a3a3a" stroke-width="1" fill="none"/>
<path d="M1426.50 486.50V539.50M1421.30 486.50H1431.70M1421.30 539.50H1431.70" stroke="#3a3a3a" stroke-width="1.0" fill="none" opacity="1.0"/>
<path d="M1439.50 547.50V557.40M1434.30 547.50H1444.70" stroke="#3a3a3a" stroke-width="1" fill="none"/>
<path d="M1452.50 513.50V557.40M1447.30 513.50H1457.70" stroke="#3a3a3a" stroke-width="1" fill="none"/>
<path d="M1466.50 462.50V557.40M1461.30 462.50H1471.70" stroke="#3a3a3a" stroke-width="1" fill="none"/>
<path d="M1479.50 468.50V557.40M1474.30 468.50H1484.70" stroke="#3a3a3a" stroke-width="1" fill="none"/>
<path d="M1505.50 544.50V557.40M1500.30 544.50H1510.70" stroke="#3a3a3a" stroke-width="1" fill="none"/>
<path d="M1519.50 537.50V557.40M1514.30 537.50H1524.70" stroke="#3a3a3a" stroke-width="1" fill="none"/>
<path d="M1532.50 511.50V557.40M1527.30 511.50H1537.70" stroke="#3a3a3a" stroke-width="1" fill="none"/>
<path d="M1545.50 480.50V518.50M1540.30 480.50H1550.70M1540.30 518.50H1550.70" stroke="#3a3a3a" stroke-width="1.0" fill="none" opacity="1.0"/>
<path d="M1559.50 197.50V210.50M1554.30 197.50H1564.70M1554.30 210.50H1564.70" stroke="#3a3a3a" stroke-width="1.0" fill="none" opacity="1.0"/>
<path d="M1572.50 400.50V457.50M1567.30 400.50H1577.70M1567.30 457.50H1577.70" stroke="#3a3a3a" stroke-width="1.0" fill="none" opacity="1.0"/>
<path d="M1000.50 202.50V557.40M995.30 202.50H1005.70" stroke="#ff3030" stroke-width="1" fill="none"/>
<path d="M1027.50 196.50V557.40M1022.30 196.50H1032.70" stroke="#ff3030" stroke-width="1" fill="none"/>
<path d="M1054.50 348.50V557.40M1049.30 348.50H1059.70" stroke="#ff3030" stroke-width="1" fill="none"/>
<path d="M1067.50 310.50V557.40M1062.30 310.50H1072.70" stroke="#ff3030" stroke-width="1" fill="none"/>
<path d="M1120.50 284.50V307.50M1115.30 284.50H1125.70M1115.30 307.50H1125.70" stroke="#ff3030" stroke-width="1.0" fill="none" opacity="1.0"/>
<path d="M1399.50 296.50V557.40M1394.30 296.50H1404.70" stroke="#ff3030" stroke-width="1" fill="none"/>
<path d="M1412.50 301.50V557.40M1407.30 301.50H1417.70" stroke="#ff3030" stroke-width="1" fill="none"/>
<path d="M1426.50 286.50V557.40M1421.30 286.50H1431.70" stroke="#ff3030" stroke-width="1" fill="none"/>
<path d="M1452.50 365.50V557.40M1447.30 365.50H1457.70" stroke="#ff3030" stroke-width="1" fill="none"/>
<path d="M1466.50 406.50V557.40M1461.30 406.50H1471.70" stroke="#ff3030" stroke-width="1" fill="none"/>
<path d="M1492.50 360.50V557.40M1487.30 360.50H1497.70" stroke="#ff3030" stroke-width="1" fill="none"/>
<path d="M1519.50 337.50V557.40M1514.30 337.50H1524.70" stroke="#ff3030" stroke-width="1" fill="none"/>
<path d="M1532.50 380.50V557.40M1527.30 380.50H1537.70" stroke="#ff3030" stroke-width="1" fill="none"/>
<path d="M1559.50 190.50V206.50M1554.30 190.50H1564.70M1554.30 206.50H1564.70" stroke="#ff3030" stroke-width="1.0" fill="none" opacity="1.0"/>
<path d="M1572.50 355.50V557.40M1567.30 355.50H1577.70" stroke="#ff3030" stroke-width="1" fill="none"/>
<path d="M1598.50 346.50V557.40M1593.30 346.50H1603.70" stroke="#ff3030" stroke-width="1" fill="none"/>
</g>
<text transform="translate(1266.3,624.3) scale(1.043,1)" font-size="31.6" text-anchor="middle" >Neutron energy [MeV]</text>
<text transform="translate(860.70,603.40) rotate(-90) scale(1.028,1)" font-size="34.4" style="white-space:pre">Number of neutrons per bin</text>
<text transform="translate(860.70,213.07) rotate(-90) scale(1.028,1)" font-size="34.4" style="white-space:pre"> [10</text>
<text transform="translate(842.70,156.59) rotate(-90) scale(1.19,1)" font-size="20.5" style="white-space:pre">-7</text>
<text transform="translate(860.70,136.77) rotate(-90) scale(1.028,1)" font-size="34.4" style="white-space:pre"> source</text>
<text transform="translate(840.70,35.13) rotate(-90) scale(1.19,1)" font-size="20.5" style="white-space:pre">-1</text>
<text transform="translate(860.70,14.81) rotate(-90) scale(1.028,1)" font-size="34.4" style="white-space:pre">]</text>
<rect x="955.7" y="42.9" width="610.5" height="72.6" fill="#fff" stroke="#333" stroke-width="1"/>
<line x1="959.80" y1="61.80" x2="1021.90" y2="61.80" stroke="#000" stroke-width="2.4"/>
<line x1="959.80" y1="96.40" x2="1021.90" y2="96.40" stroke="#f00" stroke-width="2.4"/>
<text transform="translate(1028.5,71.6) scale(1.0,1)" font-size="28" text-anchor="start" >Neutron energy spectrum estimated by MCNP</text>
<text transform="translate(1028.5,105.8) scale(1.0,1)" font-size="28" text-anchor="start" >Neutron energy spectrum deduced by unfolding</text>
<text transform="translate(1435.1,216.8) scale(0.98,1)" font-size="60" text-anchor="start" >(b)</text>
</svg>
</body></html>
